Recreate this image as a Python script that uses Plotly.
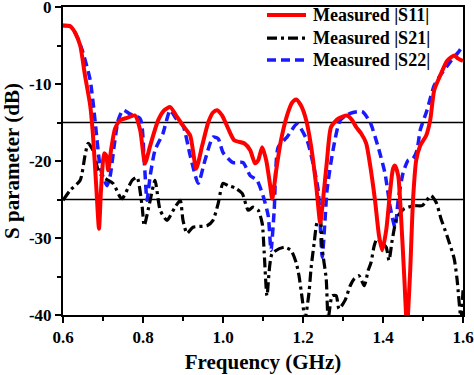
import plotly.graph_objects as go

# ---- data ----
s11_f = [0.600, 0.618, 0.630, 0.643, 0.655, 0.668, 0.675, 0.683, 0.690, 0.695, 0.703, 0.708, 0.713,
         0.720, 0.730, 0.743, 0.760, 0.780, 0.793, 0.805, 0.818, 0.838, 0.853, 0.868, 0.883, 0.900,
         0.918, 0.933, 0.948, 0.963, 0.975, 0.985, 0.998, 1.013, 1.028, 1.053, 1.068, 1.080, 1.088,
         1.098, 1.108, 1.118, 1.123, 1.133, 1.145, 1.160, 1.173, 1.183, 1.195, 1.208, 1.220, 1.233,
         1.243, 1.250, 1.260, 1.270, 1.288, 1.310, 1.323, 1.333, 1.345, 1.358, 1.368, 1.380, 1.390,
         1.398, 1.408, 1.418, 1.425, 1.430, 1.438, 1.445, 1.453, 1.460, 1.468, 1.475, 1.483, 1.493,
         1.508, 1.518, 1.528, 1.543, 1.560, 1.578, 1.588, 1.600]
s11_db = [-2.4, -2.5, -3.3, -5.0, -8.9, -12.8, -16.7, -23.2, -28.8, -23.8, -19.0, -19.3, -21.2,
          -18.6, -15.8, -14.7, -14.4, -14.1, -16.0, -20.3, -18.0, -14.7, -13.4, -13.0, -14.1, -15.4,
          -16.7, -21.0, -18.0, -15.0, -13.7, -13.4, -14.1, -15.8, -17.3, -17.7, -18.6, -20.3, -19.9,
          -18.2, -19.9, -23.2, -24.9, -21.2, -17.3, -14.1, -12.4, -12.0, -12.8, -14.7, -18.0, -23.2,
          -28.0, -25.1, -19.9, -15.6, -14.5, -14.1, -14.7, -15.6, -16.4, -17.7, -20.6, -25.1, -29.7,
          -31.6, -29.0, -23.8, -21.0, -20.6, -21.9, -27.1, -34.9, -41.5, -34.2, -25.1, -19.9, -18.0,
          -16.7, -14.7, -10.8, -8.9, -7.0, -6.3, -6.7, -7.0]

s21_f = [0.600, 0.618, 0.643, 0.655, 0.663, 0.675, 0.688, 0.700, 0.725, 0.743, 0.748, 0.773, 0.785,
         0.798, 0.803, 0.818, 0.830, 0.843, 0.860, 0.880, 0.893, 0.900, 0.910, 0.925, 0.960, 0.975,
         0.988, 1.000, 1.013, 1.030, 1.048, 1.063, 1.075, 1.088, 1.098, 1.103, 1.110, 1.123, 1.153,
         1.170, 1.183, 1.190, 1.198, 1.205, 1.215, 1.220, 1.228, 1.235, 1.243, 1.248, 1.258, 1.263,
         1.273, 1.283, 1.290, 1.305, 1.318, 1.328, 1.340, 1.353, 1.363, 1.370, 1.378, 1.385, 1.398,
         1.408, 1.415, 1.423, 1.435, 1.453, 1.478, 1.498, 1.520, 1.533, 1.545, 1.560, 1.578, 1.585,
         1.595, 1.600]
s21_db = [-25.1, -23.8, -22.5, -19.3, -17.7, -18.6, -21.2, -22.1, -22.9, -24.7, -24.9, -22.5, -22.1,
          -26.0, -28.4, -25.1, -22.5, -26.4, -27.7, -26.0, -25.1, -27.7, -29.4, -28.6, -28.4, -27.7,
          -25.5, -22.9, -23.2, -23.5, -24.2, -26.4, -26.0, -26.4, -28.1, -31.9, -37.5, -32.0, -31.2,
          -31.6, -33.2, -34.9, -37.9, -40.5, -37.1, -34.0, -30.6, -28.0, -27.5, -31.4, -35.3, -40.5,
          -37.5, -37.5, -39.2, -38.1, -36.2, -35.3, -34.9, -36.2, -34.2, -33.2, -31.0, -30.1, -30.7,
          -31.2, -32.9, -30.3, -27.3, -26.2, -25.8, -25.8, -24.5, -25.4, -27.5, -29.7, -32.7, -35.3,
          -40.5, -36.8]

s22_f = [0.600, 0.618, 0.630, 0.648, 0.668, 0.680, 0.693, 0.703, 0.710, 0.718, 0.728, 0.738, 0.750,
         0.768, 0.793, 0.803, 0.810, 0.818, 0.830, 0.850, 0.868, 0.883, 0.900, 0.918, 0.938, 0.955,
         0.975, 0.988, 1.000, 1.025, 1.050, 1.068, 1.085, 1.100, 1.113, 1.120, 1.128, 1.138, 1.160,
         1.185, 1.210, 1.225, 1.238, 1.248, 1.255, 1.260, 1.275, 1.293, 1.318, 1.348, 1.368, 1.388,
         1.405, 1.418, 1.430, 1.438, 1.450, 1.463, 1.475, 1.485, 1.493, 1.510, 1.528, 1.543, 1.570,
         1.588, 1.600]
s22_db = [-2.4, -2.5, -3.3, -5.6, -9.5, -14.7, -20.8, -22.5, -23.2, -21.9, -18.0, -14.7, -13.4,
          -13.9, -14.5, -19.9, -25.1, -21.9, -18.6, -16.4, -13.4, -14.5, -15.4, -19.3, -22.9, -19.9,
          -16.9, -17.1, -18.9, -20.2, -20.2, -21.9, -22.5, -24.5, -27.1, -31.6, -26.4, -18.2, -16.9,
          -15.2, -17.3, -20.3, -23.8, -32.5, -27.7, -23.8, -18.6, -14.7, -13.8, -13.6, -15.0, -18.2,
          -21.6, -26.0, -28.6, -25.1, -21.6, -19.9, -19.7, -18.6, -16.0, -13.4, -10.2, -8.9, -7.0,
          -5.9, -5.0]

series_names = ["Measured |S11|", "Measured |S21|", "Measured |S22|"]
ref_levels = [-15, -25]
y_tickvals = [0, -10, -20, -30, -40]
y_ticktext = ["0", "-10", "-20", "-30", "-40"]
x_tickvals = [0.6, 0.8, 1.0, 1.2, 1.4, 1.6]
x_ticktext = ["0.6", "0.8", "1.0", "1.2", "1.4", "1.6"]

FONT = "Liberation Serif, Times New Roman, serif"

styles = {
    "Measured |S11|": dict(color="#ff0000", width=4, dash="solid"),
    "Measured |S21|": dict(color="black", width=3.2, dash="10px,4px,3px,4px"),
    "Measured |S22|": dict(color="#1a1aff", width=3.5, dash="9px,5px"),
}

fig = go.Figure()
fig.add_trace(go.Scatter(x=s22_f, y=s22_db, mode="lines", name=series_names[2],
                         line=dict(**styles[series_names[2]], shape="spline", smoothing=0.6)))
fig.add_trace(go.Scatter(x=s21_f, y=s21_db, mode="lines", name=series_names[1],
                         line=dict(**styles[series_names[1]], shape="spline", smoothing=0.6)))
fig.add_trace(go.Scatter(x=s11_f, y=s11_db, mode="lines", name=series_names[0],
                         line=dict(**styles[series_names[0]], shape="spline", smoothing=0.6)))

for lv in ref_levels:
    fig.add_shape(type="line", xref="paper", x0=0, x1=1, yref="y", y0=lv, y1=lv,
                  line=dict(color="black", width=1.3), layer="below")

# legend (drawn as keys + labels, placed at the top right inside the frame)
leg_rows = [0.974, 0.899, 0.828]
for name, yy in zip(series_names, leg_rows):
    st = styles[name]
    fig.add_shape(type="line", xref="paper", yref="paper", x0=0.51, x1=0.6075, y0=yy, y1=yy,
                  line=dict(color=st["color"], width=st["width"], dash=st["dash"]))
    fig.add_annotation(xref="paper", yref="paper", x=0.62, y=yy, text=name, showarrow=False,
                       xanchor="left", yanchor="middle",
                       font=dict(family=FONT, size=18, color="black", weight="bold"))

axis_common = dict(showline=True, linecolor="black", linewidth=2, mirror=True,
                   ticks="outside", ticklen=6, tickwidth=2, tickcolor="black",
                   showgrid=False, zeroline=False, automargin=False, ticklabeloverflow="allow",
                   tickfont=dict(family=FONT, size=17, color="black", weight="bold"))

fig.update_xaxes(range=[0.6, 1.6], tickvals=x_tickvals, ticktext=x_ticktext,
                 minor=dict(ticks="outside", ticklen=4, tickwidth=2, tickcolor="black", dtick=0.1, tick0=0.6),
                 title=dict(text="Frequency (GHz)", font=dict(family=FONT, size=21, color="black", weight="bold"),
                            standoff=8),
                 **axis_common)
fig.update_yaxes(range=[-40, 0], tickvals=y_tickvals, ticktext=y_ticktext,
                 minor=dict(ticks="outside", ticklen=4, tickwidth=2, tickcolor="black", dtick=5, tick0=0),
                 title=dict(text="S parameter (dB)", font=dict(family=FONT, size=21, color="black", weight="bold"),
                            standoff=6),
                 **axis_common)

fig.update_layout(
    width=474, height=375,
    margin=dict(l=63, r=11, t=7, b=60, autoexpand=False),
    paper_bgcolor="white", plot_bgcolor="white",
    showlegend=False,
)

fig.write_html("out.html", config={"displayModeBar": False},
               post_script="document.body.style.margin='0';")
